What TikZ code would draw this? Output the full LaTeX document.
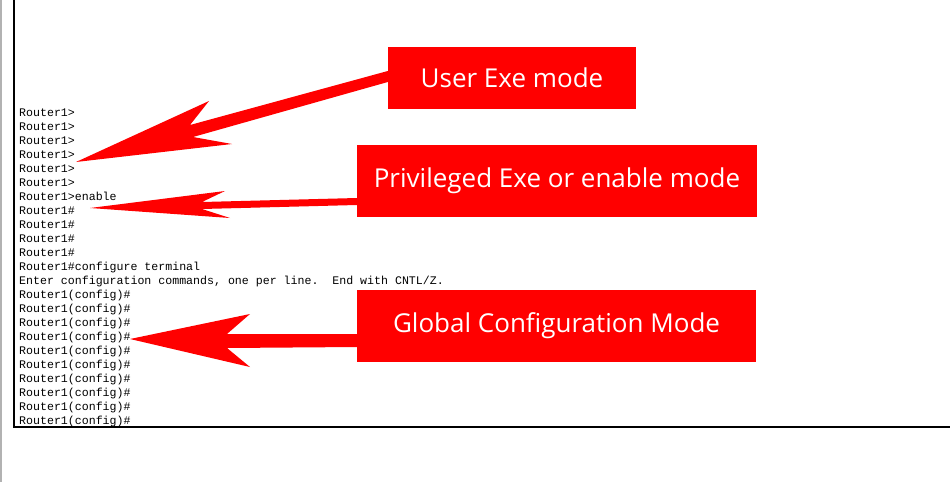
\documentclass[tikz,border=0pt]{standalone}
\usepackage{fontspec}
\setmainfont{Open Sans}
\newfontfamily\termfont{Liberation Mono}
\definecolor{callred}{RGB}{255,0,0}
\begin{document}
\begin{tikzpicture}[x=1pt,y=-1pt,
  term/.style={anchor=base west,inner sep=0pt,font=\termfont\fontsize{11.6}{12}\selectfont},
  callout/.style={fill=callred,text=white,inner sep=0pt,font=\fontsize{26}{30}\selectfont},
  arr/.style={fill=callred}]
\useasboundingbox (0,0) rectangle (950,482);
\fill[white] (0,0) rectangle (950,482);
\draw[gray!60,line width=1.5] (1,0) -- (1,482);
\draw[black,line width=2] (14,0) -- (14,427) -- (950,427);
\foreach \t [count=\i from 0] in {Router1>,Router1>,Router1>,Router1>,Router1>,Router1>,Router1>enable,Router1\#,Router1\#,Router1\#,Router1\#,Router1\#configure terminal,{Enter configuration commands, one per line.\ \ End with CNTL/Z.},Router1(config)\#,Router1(config)\#,Router1(config)\#,Router1(config)\#,Router1(config)\#,Router1(config)\#,Router1(config)\#,Router1(config)\#,Router1(config)\#,Router1(config)\#}
  \node[term] (l\i) at (19,{116+14*\i}) {\t};
\node[callout,minimum width=248,minimum height=62] (b1) at (512,78) {User Exe mode};
\node[callout,minimum width=400,minimum height=72] (b2) at (557,181) {Privileged Exe or enable mode};
\node[callout,minimum width=399,minimum height=72] (b3) at (556.5,326) {Global Configuration Mode};
\fill[arr] (b1.west |- 0,71) -- (190,125) -- (209,101) -- (76,162) -- (232,144) -- (193,137) -- (b1.west |- 0,82) -- cycle;
\fill[arr] (b2.west |- 0,198) -- (202,202) -- (225,191) -- (90,208) -- (230,218) -- (202,209) -- (b2.west |- 0,205) -- cycle;
\fill[arr] (b3.west |- 0,334) -- (227,334) -- (250,314) -- (130,339) -- (250,367) -- (227,348) -- (b3.west |- 0,347) -- cycle;
\end{tikzpicture}
\end{document}
